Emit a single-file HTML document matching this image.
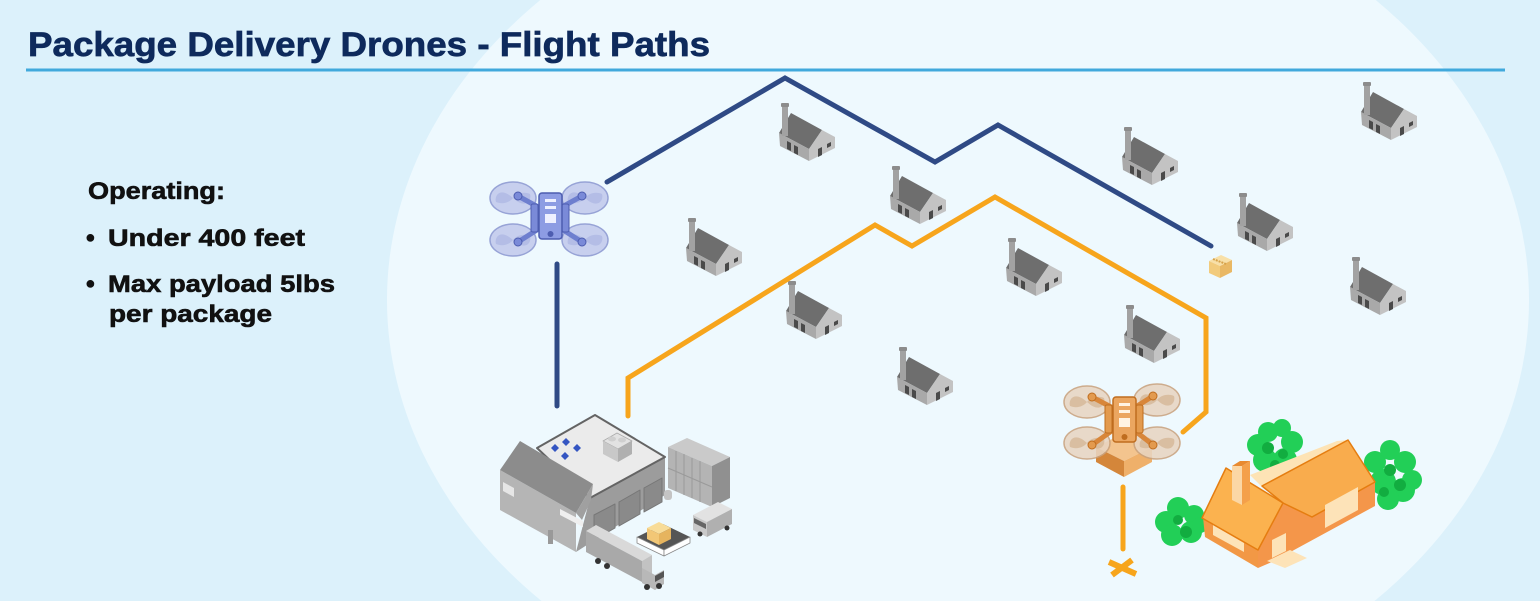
<!DOCTYPE html>
<html>
<head>
<meta charset="utf-8">
<style>
  html,body{margin:0;padding:0;background:#dcf1fb;width:1540px;height:601px;overflow:hidden;}
  svg{display:block;overflow:hidden;}
</style>
</head>
<body>
<svg width="1540" height="601" viewBox="0 0 1540 601" xmlns="http://www.w3.org/2000/svg">
  <defs>
    <g id="h">
      <polygon points="6,10 37,27 24,46 -6,30" fill="#6e6e6e"/>
      <polygon points="-6,30 24,46 24,58 -5,43" fill="#a9a9a9"/>
      <polygon points="24,46 37,27 50,34 50,45 24,58" fill="#c3c3c3"/>
      <polygon points="2,38 6,40 6,48 2,46" fill="#4a4a4a"/>
      <polygon points="9,42 13,44 13,52 9,50" fill="#4a4a4a"/>
      <polygon points="33,46 37,44 37,52 33,54" fill="#4a4a4a"/>
      <polygon points="42,41 46,39 46,43 42,45" fill="#4a4a4a"/>
      <rect x="-3" y="2" width="6" height="31" fill="#a2a2a2"/>
      <rect x="-4" y="0" width="8" height="4" rx="1" fill="#8c8c8c"/>
    </g>
  </defs>

  <!-- background -->
  <rect x="0" y="0" width="1540" height="601" fill="#dcf1fb"/>
  <path d="M540.3,0 L1375.7,0 A571,440 0 0,1 1374.5,601 L541.5,601 A571,440 0 0,1 540.3,0 Z" fill="#eef9fe"/>

  <!-- title -->
  <text x="28" y="56" font-family="Liberation Sans, Arial, sans-serif" font-weight="bold" font-size="34" fill="#0e2a5c" stroke="#0e2a5c" stroke-width="0.7" textLength="682" lengthAdjust="spacingAndGlyphs">Package Delivery Drones - Flight Paths</text>
  <rect x="26" y="68.5" width="1479" height="3" fill="#41a9dc"/>

  <!-- left text -->
  <g font-family="Liberation Sans, Arial, sans-serif" font-weight="bold" fill="#111" stroke="#111" stroke-width="0.6">
    <text x="88" y="199" font-size="24" textLength="137" lengthAdjust="spacingAndGlyphs">Operating:</text>
    <text x="86" y="246" font-size="25">•</text>
    <text x="108" y="246" font-size="24" textLength="197" lengthAdjust="spacingAndGlyphs">Under 400 feet</text>
    <text x="86" y="292" font-size="25">•</text>
    <text x="108" y="292" font-size="24" textLength="227" lengthAdjust="spacingAndGlyphs">Max payload 5lbs</text>
    <text x="109" y="322" font-size="24" textLength="163" lengthAdjust="spacingAndGlyphs">per package</text>
  </g>

  <!-- houses -->
  <use href="#h" x="785" y="103"/>
  <use href="#h" x="896" y="166"/>
  <use href="#h" x="692" y="218"/>
  <use href="#h" x="1128" y="127"/>
  <use href="#h" x="1243" y="193"/>
  <use href="#h" x="1012" y="238"/>
  <use href="#h" x="792" y="281"/>
  <use href="#h" x="1130" y="305"/>
  <use href="#h" x="903" y="347"/>
  <use href="#h" x="1367" y="82"/>
  <use href="#h" x="1356" y="257"/>

  <!-- flight paths -->
  <polyline points="607,182 785,78 935,162 998,125 1211,246" fill="none" stroke="#2f4a85" stroke-width="5" stroke-linecap="round" stroke-linejoin="miter"/>
  <line x1="557" y1="264" x2="557" y2="406" stroke="#2f4a85" stroke-width="5" stroke-linecap="round"/>
  <polyline points="628,416 628,378 875,225 912,246 995,197 1206,318 1206,412 1183,432" fill="none" stroke="#f7a51c" stroke-width="5" stroke-linecap="round" stroke-linejoin="miter"/>
  <line x1="1123" y1="487" x2="1123" y2="549" stroke="#f7a51c" stroke-width="5" stroke-linecap="round"/>
  <!-- X marker -->
  <line x1="1109" y1="562" x2="1136" y2="574" stroke="#f7a51c" stroke-width="6"/>
  <line x1="1112" y1="575" x2="1132" y2="560" stroke="#f7a51c" stroke-width="6"/>

  <!-- small package -->
  <polygon points="1209,261 1221,255 1232,260 1220,266" fill="#f8e0a8"/>
  <polygon points="1209,261 1220,266 1220,278 1209,273" fill="#f2cb7c"/>
  <polygon points="1220,266 1232,260 1232,272 1220,278" fill="#e9b864"/>
  <line x1="1213" y1="259" x2="1226" y2="264" stroke="#d6a24a" stroke-width="2" stroke-dasharray="2,1"/>

  <!-- blue drone -->
  <g>
    <g fill="#c7cfee" stroke="#97a3d6" stroke-width="1.5">
      <ellipse cx="513" cy="198" rx="23" ry="16"/>
      <ellipse cx="585" cy="198" rx="23" ry="16"/>
      <ellipse cx="513" cy="240" rx="23" ry="16"/>
      <ellipse cx="585" cy="240" rx="23" ry="16"/>
    </g>
    <g fill="#b2bce6" opacity="0.9">
      <path d="M513,198 C500,186 494,196 496,202 C503,205 510,202 513,198 Z"/>
      <path d="M513,198 C526,210 532,200 530,194 C523,191 516,194 513,198 Z"/>
      <path d="M585,198 C572,186 566,196 568,202 C575,205 582,202 585,198 Z"/>
      <path d="M585,198 C598,210 604,200 602,194 C595,191 588,194 585,198 Z"/>
      <path d="M513,240 C500,228 494,238 496,244 C503,247 510,244 513,240 Z"/>
      <path d="M513,240 C526,252 532,242 530,236 C523,233 516,236 513,240 Z"/>
      <path d="M585,240 C572,228 566,238 568,244 C575,247 582,244 585,240 Z"/>
      <path d="M585,240 C598,252 604,242 602,236 C595,233 588,236 585,240 Z"/>
    </g>
    <g stroke="#6e7fcf" stroke-width="5" stroke-linecap="round">
      <line x1="540" y1="208" x2="518" y2="196"/>
      <line x1="560" y1="208" x2="582" y2="196"/>
      <line x1="540" y1="228" x2="518" y2="242"/>
      <line x1="560" y1="228" x2="582" y2="242"/>
    </g>
    <g fill="#7a8ad8" stroke="#4d5db0" stroke-width="1">
      <circle cx="518" cy="196" r="4"/>
      <circle cx="582" cy="196" r="4"/>
      <circle cx="518" cy="242" r="4"/>
      <circle cx="582" cy="242" r="4"/>
      <rect x="531" y="204" width="7" height="28" rx="2"/>
      <rect x="562" y="204" width="7" height="28" rx="2"/>
    </g>
    <rect x="539" y="193" width="23" height="46" rx="3" fill="#8d9ce3" stroke="#4d5db0" stroke-width="1.5"/>
    <rect x="545" y="199" width="11" height="3" fill="#eef0ff"/>
    <rect x="545" y="206" width="11" height="3" fill="#eef0ff"/>
    <rect x="545" y="214" width="11" height="9" fill="#eef0ff"/>
    <circle cx="550.5" cy="234" r="3" fill="#4d5db0"/>
  </g>

  <!-- orange drone -->
  <g>
    <polygon points="1096,447 1124,433 1152,447 1124,461" fill="#f3c48e"/>
    <polygon points="1096,447 1124,461 1124,477 1096,462" fill="#d4863a"/>
    <polygon points="1124,461 1152,447 1152,462 1124,477" fill="#efb06a"/>
    <g fill="#e8d5c2" stroke="#c9a27e" stroke-width="1.5" opacity="0.88">
      <ellipse cx="1087" cy="402" rx="23" ry="16"/>
      <ellipse cx="1157" cy="400" rx="23" ry="16"/>
      <ellipse cx="1087" cy="443" rx="23" ry="16"/>
      <ellipse cx="1157" cy="443" rx="23" ry="16"/>
    </g>
    <g fill="#d6b898" opacity="0.8">
      <path d="M1087,402 C1074,390 1068,400 1070,406 C1077,409 1084,406 1087,402 Z"/>
      <path d="M1087,402 C1100,414 1106,404 1104,398 C1097,395 1090,398 1087,402 Z"/>
      <path d="M1157,400 C1144,388 1138,398 1140,404 C1147,407 1154,404 1157,400 Z"/>
      <path d="M1157,400 C1170,412 1176,402 1174,396 C1167,393 1160,396 1157,400 Z"/>
      <path d="M1087,443 C1074,431 1068,441 1070,447 C1077,450 1084,447 1087,443 Z"/>
      <path d="M1087,443 C1100,455 1106,445 1104,439 C1097,436 1090,439 1087,443 Z"/>
      <path d="M1157,443 C1144,431 1138,441 1140,447 C1147,450 1154,447 1157,443 Z"/>
      <path d="M1157,443 C1170,455 1176,445 1174,439 C1167,436 1160,439 1157,443 Z"/>
    </g>
    <g stroke="#d8863a" stroke-width="5" stroke-linecap="round">
      <line x1="1113" y1="408" x2="1092" y2="397"/>
      <line x1="1134" y1="408" x2="1153" y2="396"/>
      <line x1="1113" y1="430" x2="1092" y2="445"/>
      <line x1="1134" y1="430" x2="1153" y2="445"/>
    </g>
    <g fill="#e39a4e" stroke="#bf6d1f" stroke-width="1">
      <circle cx="1092" cy="397" r="4"/>
      <circle cx="1153" cy="396" r="4"/>
      <circle cx="1092" cy="445" r="4"/>
      <circle cx="1153" cy="445" r="4"/>
      <rect x="1105" y="405" width="7" height="28" rx="2"/>
      <rect x="1136" y="405" width="7" height="28" rx="2"/>
    </g>
    <rect x="1113" y="397" width="23" height="45" rx="3" fill="#eba660" stroke="#bf6d1f" stroke-width="1.5"/>
    <rect x="1119" y="403" width="11" height="3" fill="#fff3e2"/>
    <rect x="1119" y="410" width="11" height="3" fill="#fff3e2"/>
    <rect x="1119" y="418" width="11" height="9" fill="#fff3e2"/>
    <circle cx="1124.5" cy="437" r="3" fill="#bf6d1f"/>
  </g>

  <!-- trees -->
  <g fill="#22cf57">
    <circle cx="1258" cy="445" r="11"/><circle cx="1268" cy="432" r="10"/><circle cx="1282" cy="428" r="9"/>
    <circle cx="1292" cy="442" r="11"/><circle cx="1265" cy="460" r="12"/><circle cx="1285" cy="460" r="12"/>
    <circle cx="1375" cy="462" r="11"/><circle cx="1390" cy="450" r="10"/><circle cx="1405" cy="462" r="11"/>
    <circle cx="1412" cy="480" r="10"/><circle cx="1383" cy="482" r="13"/><circle cx="1403" cy="490" r="12"/>
    <circle cx="1388" cy="499" r="11"/>
    <circle cx="1166" cy="522" r="11"/><circle cx="1178" cy="508" r="11"/><circle cx="1194" cy="515" r="10"/>
    <circle cx="1172" cy="535" r="11"/><circle cx="1191" cy="532" r="11"/><circle cx="1200" cy="525" r="8"/>
  </g>
  <g fill="#12ad40">
    <circle cx="1268" cy="448" r="6"/><circle cx="1283" cy="454" r="5"/><circle cx="1275" cy="465" r="5"/>
    <circle cx="1390" cy="470" r="6"/><circle cx="1400" cy="485" r="6"/><circle cx="1384" cy="492" r="5"/>
    <circle cx="1178" cy="520" r="5"/><circle cx="1186" cy="532" r="6"/>
  </g>

  <!-- big orange house -->
  <g stroke-linejoin="round">
    <polygon points="1250,475 1337,441 1348,440 1262,487" fill="#fde3b5"/>
    <polygon points="1258,550 1283,503 1312,517 1375,482 1375,506 1272,562 1258,568" fill="#f4964a"/>
    <polygon points="1262,486 1348,440 1375,482 1312,517 1283,503" fill="#f9ac4d" stroke="#e57d10" stroke-width="1.5"/>
    <polygon points="1325,505 1358,487 1358,510 1325,528" fill="#fde3b8"/>
    <polygon points="1203,517 1258,550 1258,568 1205,537" fill="#f29845"/>
    <polygon points="1213,525 1244,543 1244,552 1213,535" fill="#fde3b8"/>
    <polygon points="1202,518 1226,468 1283,503 1258,550" fill="#fbb24f" stroke="#e57d10" stroke-width="1.5"/>
    <polygon points="1272,540 1286,533 1286,551 1272,558" fill="#fde3b8"/>
    <polygon points="1267,561 1290,550 1307,558 1285,568" fill="#fde3b8"/>
    <polygon points="1232,466 1242,466 1242,505 1232,500" fill="#fbd7a5"/>
    <polygon points="1242,466 1250,461 1250,500 1242,505" fill="#f4a04a"/>
    <polygon points="1232,466 1240,461 1250,461 1242,466" fill="#e88a30"/>
  </g>

  <!-- warehouse -->
  <g stroke-linejoin="round">
    <polygon points="668,447 687,438 730,457 712,466" fill="#cacaca"/>
    <polygon points="668,447 712,466 712,507 668,488" fill="#b4b4b4"/>
    <polygon points="712,466 730,457 730,498 712,507" fill="#909090"/>
    <g stroke="#9a9a9a" stroke-width="1">
      <line x1="676" y1="451" x2="676" y2="491"/><line x1="684" y1="454" x2="684" y2="495"/>
      <line x1="692" y1="458" x2="692" y2="498"/><line x1="700" y1="461" x2="700" y2="502"/>
      <line x1="668" y1="468" x2="712" y2="487"/>
    </g>
    <polygon points="590,498 665,457 665,495 576,552" fill="#9c9c9c"/>
    <g fill="#8a8a8a" stroke="#777" stroke-width="1">
      <polygon points="594,515 615,504 615,528 594,540"/>
      <polygon points="619,502 640,490 640,514 619,526"/>
      <polygon points="644,488 662,478 662,502 644,512"/>
    </g>
    <polygon points="537,448 595,415 665,457 590,498" fill="#ebebeb" stroke="#646464" stroke-width="2"/>
    <polygon points="500,470 576,513 576,552 500,510" fill="#b5b5b5"/>
    <polygon points="500,470 520,441 593,484 576,513" fill="#8c8c8c"/>
    <polygon points="576,513 593,484 591,500 582,520" fill="#a0a0a0"/>
    <polygon points="503,482 514,488 514,497 503,491" fill="#e6e6e6"/>
    <polygon points="560,509 583,521 583,527 560,515" fill="#efefef"/>
    <rect x="548" y="530" width="5" height="14" fill="#999"/>
    <g fill="#3455c2">
      <polygon points="555,444 559,448 555,452 551,448"/>
      <polygon points="566,438 570,442 566,446 562,442"/>
      <polygon points="577,444 581,448 577,452 573,448"/>
      <polygon points="565,452 569,456 565,460 561,456"/>
    </g>
    <polygon points="603,441 617,433 632,441 618,449" fill="#e2e2e2" stroke="#aaa" stroke-width="0.8"/>
    <polygon points="603,441 618,449 618,462 603,454" fill="#c8c8c8"/>
    <polygon points="618,449 632,441 632,454 618,462" fill="#b0b0b0"/>
    <ellipse cx="612" cy="439" rx="4" ry="2.5" fill="#cfcfcf"/>
    <ellipse cx="622" cy="440" rx="4" ry="2.5" fill="#cfcfcf"/>
    <rect x="664" y="490" width="8" height="10" rx="3" fill="#c4c4c4"/>
    <polygon points="693,515 718,502 732,509 707,522" fill="#e2e2e2"/>
    <polygon points="693,515 707,522 707,537 693,530" fill="#c9c9c9"/>
    <polygon points="707,522 732,509 732,524 707,537" fill="#b0b0b0"/>
    <polygon points="694,518 706,524 706,529 694,523" fill="#666"/>
    <circle cx="700" cy="534" r="2.5" fill="#333"/><circle cx="727" cy="528" r="2.5" fill="#333"/>
    <polygon points="637,537 663,524 690,537 664,550" fill="#555"/>
    <polygon points="637,537 664,550 664,556 637,543" fill="#fff" stroke="#888" stroke-width="0.8"/>
    <polygon points="664,550 690,537 690,543 664,556" fill="#fff" stroke="#888" stroke-width="0.8"/>
    <polygon points="647,528 659,522 671,528 659,534" fill="#f8dc98"/>
    <polygon points="647,528 659,534 659,545 647,539" fill="#f2c776"/>
    <polygon points="659,534 671,528 671,539 659,545" fill="#e6b45e"/>
    <polygon points="586,531 596,525 652,555 642,561" fill="#d9d9d9"/>
    <polygon points="586,531 642,561 642,582 586,552" fill="#a9a9a9"/>
    <polygon points="642,561 652,555 652,576 642,582" fill="#c2c2c2"/>
    <polygon points="642,568 655,575 664,570 664,584 655,590 642,583" fill="#b8b8b8"/>
    <polygon points="655,576 664,571 664,577 655,582" fill="#555"/>
    <g fill="#333">
      <circle cx="598" cy="561" r="3"/><circle cx="607" cy="566" r="3"/>
      <circle cx="647" cy="587" r="3"/><circle cx="659" cy="586" r="3"/>
    </g>
  </g>
</svg>
</body>
</html>
